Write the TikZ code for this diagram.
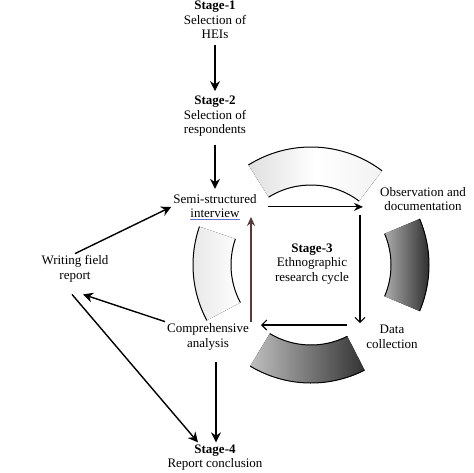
\documentclass[tikz,border=0pt]{standalone}
\usepackage{fontspec}
\setmainfont{Liberation Serif}
\usetikzlibrary{positioning, arrows.meta, calc}
\definecolor{upline}{RGB}{85,58,55}
\definecolor{ulblue}{RGB}{95,110,205}
\newcommand{\ringpart}[3]{%
  \fill[#3] ($(ring)+(#1:118)$) arc[start angle=#1, end angle=#2, radius=118]
    -- ($(ring)+(#2:80)$) arc[start angle=#2, end angle=#1, radius=80] -- cycle;
  \draw[ringline] ($(ring)+(#1:118)$) arc[start angle=#1, end angle=#2, radius=118];
  \draw[ringline] ($(ring)+(#1:80)$) arc[start angle=#1, end angle=#2, radius=80];}

\begin{document}
\begin{tikzpicture}[x=1pt, y=-1pt, every node/.style={align=center, inner sep=2pt, font=\fontsize{13}{14.5}\selectfont}, >={Stealth[length=10pt, width=10pt]}, flow/.style={->, line width=1.4pt}, cyc/.style={line width=1.1pt, -{Straight Barb[length=5pt, width=10pt]}}, ringline/.style={line width=1pt}]
    \useasboundingbox (0,0) rectangle (474,472);
    \coordinate (ring) at (311,265);
    % ring segments
    \ringpart{-122}{-53}{left color=gray!25, right color=gray!10, middle color=white}
    \ringpart{-23}{23}{left color=gray!65, right color=black!85}
    \ringpart{63}{121}{left color=gray!50, right color=black!80}
    \ringpart{-208}{-161}{left color=gray!20, right color=white}

    \node (s1) at (215,20) {\textbf{Stage-1}\\Selection of\\HEIs};
    \node (s2) [below=53pt of s1] {\textbf{Stage-2}\\Selection of\\respondents};
    \node (semi) [below=53pt of s2] {Semi-structured\\{\color{ulblue}\underline{\color{black}interview}}};
    \node (obs) at (423,199) {Observation and\\documentation};
    \node (data) at (392,337) {Data\\collection};
    \node (comp) at (208,337) {Comprehensive\\analysis};
    \node (s3) at (312,264) {\textbf{Stage-3}\\Ethnographic\\research cycle};
    \node (write) at (75,269) {Writing field\\report};
    \node (s4) at (215,457.5) {\textbf{Stage-4}\\Report conclusion};

    \draw[flow, shorten <=4pt, shorten >=3pt] (s1) -- (s2);
    \draw[flow, shorten <=6pt, shorten >=3pt] (s2) -- (semi);
    % research cycle
    \draw[line width=1.2pt, -{Stealth[length=9pt, width=8pt]}, shorten <=9pt, shorten >=15pt] (semi.east) -- (semi.east -| obs.west);
    \draw[cyc, shorten <=2pt] ([xshift=-63pt]obs.south) -- ([xshift=-63pt]obs.south |- data.north);
    \draw[cyc, shorten <=17pt, shorten >=10pt] ([yshift=12pt]data.west) -- ([yshift=12pt]data.west -| comp.east);
    \draw[upline, line width=1.2pt, -{Stealth[length=9pt, width=8pt]}, shorten >=-5pt] (comp.north east) -- (comp.north east |- semi.south);
    % report
    \draw[flow] (write.north) -- (semi.west);
    \draw[flow] (comp.north west) -- ([xshift=8pt, yshift=-10pt]write.south);
    \draw[flow] ([xshift=-3pt, yshift=-10pt]write.south) -- ([xshift=-17pt]s4.north);
    \draw[flow, shorten <=10pt] ([xshift=8pt]comp.south) -- ([xshift=1pt]s4.north);
\end{tikzpicture}
\end{document}
